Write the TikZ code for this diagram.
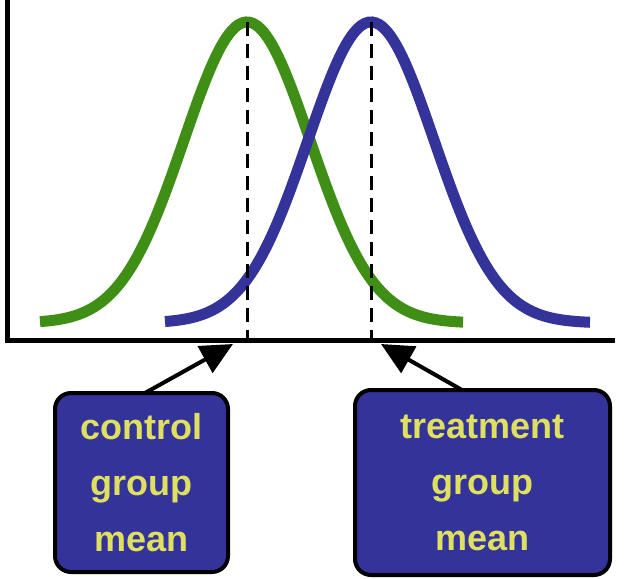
\documentclass[tikz,border=0pt]{standalone}
\usepackage{fontspec}
\setmainfont{Liberation Sans}
\usetikzlibrary{arrows.meta}
\definecolor{gcur}{HTML}{3F8F17}
\definecolor{bcur}{HTML}{333399}
\definecolor{ytxt}{HTML}{E0E060}
\begin{document}
\begin{tikzpicture}[x=1pt,y=-1pt,
  box/.style={draw=black,line width=4pt,fill=bcur,rounded corners=16pt,text=ytxt,font=\fontsize{36}{56}\selectfont\bfseries,align=center,inner sep=0pt},
  arr/.style={line width=4pt,-{Triangle[length=32pt,width=30pt]}},
  curve/.style={line width=11pt,samples=120,smooth}]
\useasboundingbox (0,0) rectangle (625,579);
\draw[curve,gcur] plot[domain=40:463] (\x,{323-301*exp(-(((\x-247)/89.27)^2))});
\draw[curve,bcur] plot[domain=165:590] (\x,{323-301*exp(-(((\x-371)/89.27)^2))});
\draw[line width=3pt,dash pattern=on 14pt off 8pt] (247,22) -- (247,340);
\draw[line width=3pt,dash pattern=on 14pt off 8pt] (371,22) -- (371,340);
\draw[line width=5pt] (7,0) -- (7,340) -- (615,340);
\node[box,minimum width=173pt,minimum height=179pt] (c) at (141.5,482.5) {control\\group\\mean};
\node[box,minimum width=255pt,minimum height=185pt] (t) at (482.5,482.5) {treatment\\group\\mean};
\coordinate (ca) at (233,344);
\coordinate (ta) at (381,344);
\draw[arr] (145,393) -- (ca);
\draw[arr] (462,390) -- (ta);
\end{tikzpicture}
\end{document}
